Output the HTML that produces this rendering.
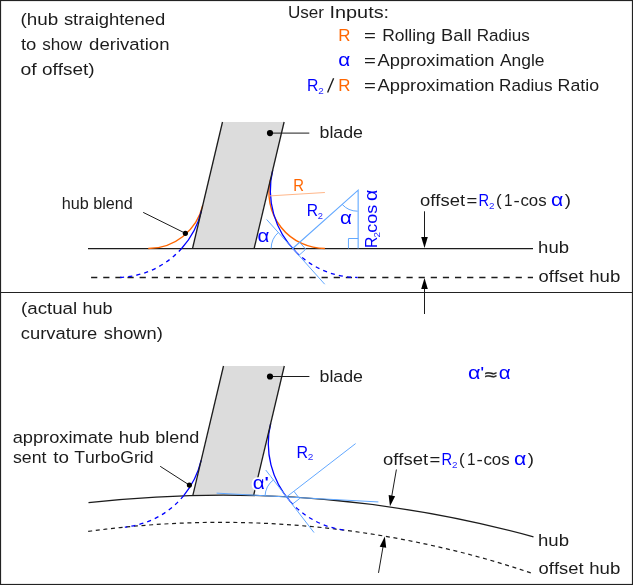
<!DOCTYPE html>
<html><head><meta charset="utf-8"><style>
html,body{margin:0;padding:0;background:#fff;}
svg{display:block;will-change:transform;}
text{font-family:"Liberation Sans",sans-serif;font-kerning:none;}
</style></head><body>
<svg width="633" height="585" viewBox="0 0 633 585">
<rect width="633" height="585" fill="#fff"/>
<rect x="0.5" y="0.5" width="632" height="584" fill="none" stroke="#222" stroke-width="1.2"/>
<line x1="0" y1="292.5" x2="633" y2="292.5" stroke="#222" stroke-width="1.1"/>
<polygon points="222.5,122.0 284.1,122.0 254.12,248.5 192.52,248.5" fill="#dcdcdc"/>
<line x1="88" y1="248.5" x2="533" y2="248.5" stroke="#1c1c1c" stroke-width="1.25"/>
<line x1="91.1" y1="277.5" x2="533" y2="277.5" stroke="#1c1c1c" stroke-width="1.3" stroke-dasharray="6.2,5.93"/>
<path d="M270.45,179.59 A56.00,56.00 0 0 0 324.94,248.50" fill="none" stroke="#ff6600" stroke-width="1.4"/>
<path d="M202.73,205.42 A56.00,56.00 0 0 1 148.24,248.50" fill="none" stroke="#ff6600" stroke-width="1.4"/>
<path d="M272.71,170.07 A87.30,87.30 0 0 0 296.12,252.12" fill="none" stroke="#0000ff" stroke-width="1.3"/>
<path d="M201.56,210.33 A87.30,87.30 0 0 1 181.60,248.50" fill="none" stroke="#0000ff" stroke-width="1.3"/>
<path d="M296.12,252.12 A87.30,87.30 0 0 0 357.65,277.50" fill="none" stroke="#0000ff" stroke-width="1.3" stroke-dasharray="4.1,4.1"/>
<path d="M181.60,248.50 A87.30,87.30 0 0 1 116.62,277.50" fill="none" stroke="#0000ff" stroke-width="1.3" stroke-dasharray="4.1,4.1"/>
<line x1="222.5" y1="122.0" x2="192.52" y2="248.5" stroke="#1c1c1c" stroke-width="1.3"/>
<line x1="284.1" y1="122.0" x2="254.12" y2="248.5" stroke="#1c1c1c" stroke-width="1.3"/>
<line x1="269.8" y1="195.9" x2="324.9" y2="192.5" stroke="#ffb78a" stroke-width="1"/>
<path d="M292.67,248.5 L358.15,190.20 L358.15,248.5" fill="none" stroke="#62a8ff" stroke-width="1.1"/>
<line x1="266.63" y1="219.47" x2="324.73" y2="284.23" stroke="#62a8ff" stroke-width="1"/>
<path d="M299.60,242.29 L305.81,249.21 L298.88,255.42" fill="none" stroke="#62a8ff" stroke-width="1"/>
<path d="M348.45,248.5 V238.5 H358.15" fill="none" stroke="#62a8ff" stroke-width="1"/>
<path d="M271.17,248.50 A21.50,21.50 0 0 1 278.32,232.50" fill="none" stroke="#62a8ff" stroke-width="1"/>
<path d="M357.65,211.20 A21.00,21.00 0 0 1 342.02,204.22" fill="none" stroke="#62a8ff" stroke-width="1"/>
<line x1="270" y1="133.1" x2="309.3" y2="133.1" stroke="#1c1c1c" stroke-width="1"/>
<circle cx="270" cy="133.1" r="3.1" fill="#000"/>
<line x1="143.2" y1="212.4" x2="185.4" y2="233.3" stroke="#1c1c1c" stroke-width="1"/>
<circle cx="185.4" cy="233.3" r="2.6" fill="#000"/>
<line x1="424.50" y1="211.30" x2="424.50" y2="238.10" stroke="#1c1c1c" stroke-width="1"/>
<polygon points="424.50,247.90 421.20,237.10 427.80,237.10" fill="#000"/>
<line x1="424.50" y1="314.00" x2="424.50" y2="287.90" stroke="#1c1c1c" stroke-width="1"/>
<polygon points="424.50,278.10 427.80,288.90 421.20,288.90" fill="#000"/>
<path d="M223.5,366.0 L284.3,366.0 L253.58,495.60 A1188.58,1188.58 0 0 0 192.80,495.53 Z" fill="#dcdcdc"/>
<path d="M88.5,502.68 A1188.58,1188.58 0 0 1 533.5,536.77" fill="none" stroke="#1c1c1c" stroke-width="1.3"/>
<path d="M88.2,531.45 A974.25,974.25 0 0 1 530.8,572.87" fill="none" stroke="#1c1c1c" stroke-width="1.2" stroke-dasharray="4.0,3.662"/>
<path d="M270.68,423.46 A87.30,87.30 0 0 0 290.35,501.56" fill="none" stroke="#0000ff" stroke-width="1.3"/>
<path d="M201.13,460.37 A87.30,87.30 0 0 1 183.53,495.80" fill="none" stroke="#0000ff" stroke-width="1.3"/>
<path d="M290.35,501.56 A87.30,87.30 0 0 0 344.56,530.19" fill="none" stroke="#0000ff" stroke-width="1.3" stroke-dasharray="4.1,4.1"/>
<path d="M183.53,495.80 A87.30,87.30 0 0 1 124.82,527.11" fill="none" stroke="#0000ff" stroke-width="1.3" stroke-dasharray="4.1,4.1"/>
<line x1="223.5" y1="366.0" x2="192.80" y2="495.53" stroke="#1c1c1c" stroke-width="1.3"/>
<line x1="284.3" y1="366.0" x2="253.58" y2="495.60" stroke="#1c1c1c" stroke-width="1.3"/>
<line x1="286.52" y1="496.94" x2="355.62" y2="443.59" stroke="#62a8ff" stroke-width="1"/>
<line x1="265.74" y1="470.03" x2="314.02" y2="532.56" stroke="#62a8ff" stroke-width="1"/>
<line x1="216.62" y1="493.13" x2="378.38" y2="501.95" stroke="#62a8ff" stroke-width="1"/>
<path d="M293.88,491.26 L299.56,498.62 L292.20,504.30" fill="none" stroke="#62a8ff" stroke-width="1"/>
<path d="M265.05,495.77 A21.50,21.50 0 0 1 273.38,479.92" fill="none" stroke="#62a8ff" stroke-width="1"/>
<line x1="270" y1="376.5" x2="309.4" y2="376.5" stroke="#1c1c1c" stroke-width="1"/>
<circle cx="270" cy="376.5" r="3.1" fill="#000"/>
<line x1="160.2" y1="466.3" x2="189.4" y2="485.1" stroke="#1c1c1c" stroke-width="1"/>
<circle cx="189.4" cy="485.1" r="2.6" fill="#000"/>
<line x1="396.40" y1="469.50" x2="391.68" y2="496.55" stroke="#1c1c1c" stroke-width="1"/>
<polygon points="390.00,506.20 388.60,494.99 395.11,496.13" fill="#000"/>
<line x1="378.50" y1="572.90" x2="383.12" y2="546.26" stroke="#1c1c1c" stroke-width="1"/>
<polygon points="384.80,536.60 386.20,547.81 379.70,546.68" fill="#000"/>
<text x="20.6" y="25.0" font-size="17.2" fill="#1c1c1c" textLength="37.7" lengthAdjust="spacingAndGlyphs" >(hub</text>
<text x="63.9" y="25.0" font-size="17.2" fill="#1c1c1c" textLength="101.5" lengthAdjust="spacingAndGlyphs" >straightened</text>
<text x="20.9" y="50.1" font-size="17.2" fill="#1c1c1c" textLength="15.4" lengthAdjust="spacingAndGlyphs" >to</text>
<text x="42.2" y="50.1" font-size="17.2" fill="#1c1c1c" textLength="40.0" lengthAdjust="spacingAndGlyphs" >show</text>
<text x="89.1" y="50.1" font-size="17.2" fill="#1c1c1c" textLength="80.4" lengthAdjust="spacingAndGlyphs" >derivation</text>
<text x="20.4" y="75.4" font-size="17.2" fill="#1c1c1c" textLength="16.2" lengthAdjust="spacingAndGlyphs" >of</text>
<text x="41.9" y="75.4" font-size="17.2" fill="#1c1c1c" textLength="52.7" lengthAdjust="spacingAndGlyphs" >offset)</text>
<text x="287.9" y="18.1" font-size="17.2" fill="#1c1c1c" textLength="36.1" lengthAdjust="spacingAndGlyphs" >User</text>
<text x="329.5" y="18.1" font-size="17.2" fill="#1c1c1c" textLength="59.6" lengthAdjust="spacingAndGlyphs" >Inputs:</text>
<text x="338.2" y="41.2" font-size="17.2" fill="#ff6600" textLength="12.2" lengthAdjust="spacingAndGlyphs" >R</text>
<text x="364.1" y="41.2" font-size="17.2" fill="#1c1c1c" textLength="11.9" lengthAdjust="spacingAndGlyphs" >=</text>
<text x="382.2" y="41.2" font-size="17.2" fill="#1c1c1c" textLength="53.3" lengthAdjust="spacingAndGlyphs" >Rolling</text>
<text x="441.1" y="41.2" font-size="17.2" fill="#1c1c1c" textLength="30.4" lengthAdjust="spacingAndGlyphs" >Ball</text>
<text x="476.7" y="41.2" font-size="17.2" fill="#1c1c1c" textLength="53.2" lengthAdjust="spacingAndGlyphs" >Radius</text>
<text x="338.3" y="66.3" font-size="18.6" fill="#0000ff" textLength="12.0" lengthAdjust="spacingAndGlyphs" >α</text>
<text x="364.1" y="66.3" font-size="17.2" fill="#1c1c1c" textLength="11.9" lengthAdjust="spacingAndGlyphs" >=</text>
<text x="377.5" y="66.3" font-size="17.2" fill="#1c1c1c" textLength="117.0" lengthAdjust="spacingAndGlyphs" >Approximation</text>
<text x="499.9" y="66.3" font-size="17.2" fill="#1c1c1c" textLength="44.6" lengthAdjust="spacingAndGlyphs" >Angle</text>
<text x="307.0" y="91.2" font-size="17.2" fill="#0000ff" textLength="11.4" lengthAdjust="spacingAndGlyphs" >R</text>
<text x="318.3" y="93.9" font-size="8.6" fill="#2828ff" textLength="5.5" lengthAdjust="spacingAndGlyphs" >2</text>
<text x="338.2" y="91.2" font-size="17.2" fill="#ff6600" textLength="12.2" lengthAdjust="spacingAndGlyphs" >R</text>
<text x="364.1" y="91.2" font-size="17.2" fill="#1c1c1c" textLength="11.9" lengthAdjust="spacingAndGlyphs" >=</text>
<text x="377.5" y="91.2" font-size="17.2" fill="#1c1c1c" textLength="117.0" lengthAdjust="spacingAndGlyphs" >Approximation</text>
<text x="499.1" y="91.2" font-size="17.2" fill="#1c1c1c" textLength="53.4" lengthAdjust="spacingAndGlyphs" >Radius</text>
<text x="557.6" y="91.2" font-size="17.2" fill="#1c1c1c" textLength="41.5" lengthAdjust="spacingAndGlyphs" >Ratio</text>
<text x="319.5" y="138.1" font-size="17.2" fill="#1c1c1c" textLength="43.5" lengthAdjust="spacingAndGlyphs" >blade</text>
<text x="61.7" y="208.5" font-size="15.9" fill="#1c1c1c" textLength="71.2" lengthAdjust="spacingAndGlyphs" >hub blend</text>
<text x="538.1" y="252.9" font-size="17.2" fill="#1c1c1c" textLength="30.9" lengthAdjust="spacingAndGlyphs" >hub</text>
<text x="538.6" y="282.2" font-size="17.2" fill="#1c1c1c" textLength="44.9" lengthAdjust="spacingAndGlyphs" >offset</text>
<text x="589.2" y="282.2" font-size="17.2" fill="#1c1c1c" textLength="31.1" lengthAdjust="spacingAndGlyphs" >hub</text>
<text x="21.0" y="314.3" font-size="17.2" fill="#1c1c1c" textLength="56.2" lengthAdjust="spacingAndGlyphs" >(actual</text>
<text x="82.6" y="314.3" font-size="17.2" fill="#1c1c1c" textLength="30.0" lengthAdjust="spacingAndGlyphs" >hub</text>
<text x="20.8" y="339.1" font-size="17.2" fill="#1c1c1c" textLength="76.5" lengthAdjust="spacingAndGlyphs" >curvature</text>
<text x="103.8" y="339.1" font-size="17.2" fill="#1c1c1c" textLength="59.0" lengthAdjust="spacingAndGlyphs" >shown)</text>
<text x="319.5" y="381.6" font-size="17.2" fill="#1c1c1c" textLength="43.5" lengthAdjust="spacingAndGlyphs" >blade</text>
<text x="12.7" y="442.8" font-size="17.2" fill="#1c1c1c" textLength="100.4" lengthAdjust="spacingAndGlyphs" >approximate</text>
<text x="118.7" y="442.8" font-size="17.2" fill="#1c1c1c" textLength="30.9" lengthAdjust="spacingAndGlyphs" >hub</text>
<text x="155.2" y="442.8" font-size="17.2" fill="#1c1c1c" textLength="44.1" lengthAdjust="spacingAndGlyphs" >blend</text>
<text x="13.0" y="462.7" font-size="17.2" fill="#1c1c1c" textLength="33.5" lengthAdjust="spacingAndGlyphs" >sent</text>
<text x="53.3" y="462.7" font-size="17.2" fill="#1c1c1c" textLength="15.7" lengthAdjust="spacingAndGlyphs" >to</text>
<text x="74.3" y="462.7" font-size="17.2" fill="#1c1c1c" textLength="79.2" lengthAdjust="spacingAndGlyphs" >TurboGrid</text>
<text x="538.0" y="545.7" font-size="17.2" fill="#1c1c1c" textLength="31.0" lengthAdjust="spacingAndGlyphs" >hub</text>
<text x="538.6" y="574.1" font-size="17.2" fill="#1c1c1c" textLength="44.9" lengthAdjust="spacingAndGlyphs" >offset</text>
<text x="589.2" y="574.1" font-size="17.2" fill="#1c1c1c" textLength="31.1" lengthAdjust="spacingAndGlyphs" >hub</text>
<text x="293.2" y="191.0" font-size="16.4" fill="#ff6600" textLength="10.7" lengthAdjust="spacingAndGlyphs" >R</text>
<text x="306.8" y="216.4" font-size="17.2" fill="#0000ff" textLength="11.3" lengthAdjust="spacingAndGlyphs" >R</text>
<text x="317.8" y="219.2" font-size="8.6" fill="#2828ff" textLength="5.2" lengthAdjust="spacingAndGlyphs" >2</text>
<text x="339.9" y="223.5" font-size="18.6" fill="#0000ff" textLength="11.9" lengthAdjust="spacingAndGlyphs" >α</text>
<text x="257.4" y="241.9" font-size="18.6" fill="#0000ff" textLength="11.9" lengthAdjust="spacingAndGlyphs" >α</text>
<text x="296.5" y="457.5" font-size="17.2" fill="#0000ff" textLength="11.6" lengthAdjust="spacingAndGlyphs" >R</text>
<text x="307.8" y="460.2" font-size="8.6" fill="#2828ff" textLength="5.6" lengthAdjust="spacingAndGlyphs" >2</text>
<text x="252.7" y="489.3" font-size="18.6" fill="#0000ff" textLength="12.2" lengthAdjust="spacingAndGlyphs" stroke="#fff" stroke-width="3.5" paint-order="stroke" stroke-linejoin="round">α</text>
<text x="264.3" y="489.3" font-size="17.2" fill="#0000ff" textLength="4.9" lengthAdjust="spacingAndGlyphs" stroke="#fff" stroke-width="3.5" paint-order="stroke" stroke-linejoin="round">'</text>
<text x="467.9" y="378.7" font-size="18.6" fill="#0000ff" textLength="12.5" lengthAdjust="spacingAndGlyphs" >α</text>
<text x="480.2" y="378.7" font-size="17.2" fill="#0000ff" textLength="4.0" lengthAdjust="spacingAndGlyphs" >'</text>
<text x="485.0" y="379.9" font-size="15.6" fill="#1c1c1c" textLength="11.8" lengthAdjust="spacingAndGlyphs" stroke="#1c1c1c" stroke-width="0.45">≈</text>
<text x="498.8" y="378.7" font-size="18.6" fill="#0000ff" textLength="11.9" lengthAdjust="spacingAndGlyphs" >α</text>
<text x="420.0" y="205.7" font-size="17.2" fill="#1c1c1c" textLength="45.0" lengthAdjust="spacingAndGlyphs" >offset</text>
<text x="466.5" y="205.7" font-size="17.2" fill="#1c1c1c" textLength="10.8" lengthAdjust="spacingAndGlyphs" >=</text>
<text x="478.4" y="205.7" font-size="17.2" fill="#0000ff" textLength="10.6" lengthAdjust="spacingAndGlyphs" >R</text>
<text x="489.1" y="208.5" font-size="8.6" fill="#2828ff" textLength="5.5" lengthAdjust="spacingAndGlyphs" >2</text>
<text x="495.9" y="205.7" font-size="17.2" fill="#1c1c1c" textLength="5.7" lengthAdjust="spacingAndGlyphs" >(</text>
<text x="503.9" y="205.7" font-size="17.2" fill="#1c1c1c" textLength="8.5" lengthAdjust="spacingAndGlyphs" >1</text>
<text x="513.6" y="205.7" font-size="17.2" fill="#1c1c1c" textLength="6.3" lengthAdjust="spacingAndGlyphs" >-</text>
<text x="520.4" y="205.7" font-size="17.2" fill="#1c1c1c" textLength="26.2" lengthAdjust="spacingAndGlyphs" >cos</text>
<text x="550.9" y="205.7" font-size="18.6" fill="#0000ff" textLength="12.3" lengthAdjust="spacingAndGlyphs" >α</text>
<text x="564.7" y="205.7" font-size="17.2" fill="#1c1c1c" textLength="6.2" lengthAdjust="spacingAndGlyphs" >)</text>
<text x="383.0" y="464.7" font-size="17.2" fill="#1c1c1c" textLength="45.0" lengthAdjust="spacingAndGlyphs" >offset</text>
<text x="429.5" y="464.7" font-size="17.2" fill="#1c1c1c" textLength="10.8" lengthAdjust="spacingAndGlyphs" >=</text>
<text x="441.4" y="464.7" font-size="17.2" fill="#0000ff" textLength="10.6" lengthAdjust="spacingAndGlyphs" >R</text>
<text x="452.1" y="467.5" font-size="8.6" fill="#2828ff" textLength="5.5" lengthAdjust="spacingAndGlyphs" >2</text>
<text x="458.9" y="464.7" font-size="17.2" fill="#1c1c1c" textLength="5.7" lengthAdjust="spacingAndGlyphs" >(</text>
<text x="466.9" y="464.7" font-size="17.2" fill="#1c1c1c" textLength="8.5" lengthAdjust="spacingAndGlyphs" >1</text>
<text x="476.6" y="464.7" font-size="17.2" fill="#1c1c1c" textLength="6.3" lengthAdjust="spacingAndGlyphs" >-</text>
<text x="483.4" y="464.7" font-size="17.2" fill="#1c1c1c" textLength="26.2" lengthAdjust="spacingAndGlyphs" >cos</text>
<text x="513.9" y="464.7" font-size="18.6" fill="#0000ff" textLength="12.3" lengthAdjust="spacingAndGlyphs" >α</text>
<text x="527.7" y="464.7" font-size="17.2" fill="#1c1c1c" textLength="6.2" lengthAdjust="spacingAndGlyphs" >)</text>
<line x1="327.6" y1="92.6" x2="333.6" y2="78.2" stroke="#1c1c1c" stroke-width="1.4"/>
<g transform="translate(376.7,246.8) rotate(-90)">
<text x="-1.3" y="0.0" font-size="17.2" fill="#0000ff" textLength="11.3" lengthAdjust="spacingAndGlyphs" >R</text>
<text x="9.3" y="2.8" font-size="8.6" fill="#2828ff" textLength="5.4" lengthAdjust="spacingAndGlyphs" >2</text>
<text x="14.0" y="0.0" font-size="17.2" fill="#0000ff" textLength="28.0" lengthAdjust="spacingAndGlyphs" >cos</text>
<text x="45.7" y="0.0" font-size="18.6" fill="#0000ff" textLength="11.4" lengthAdjust="spacingAndGlyphs" >α</text>
</g>
</svg>
</body></html>
